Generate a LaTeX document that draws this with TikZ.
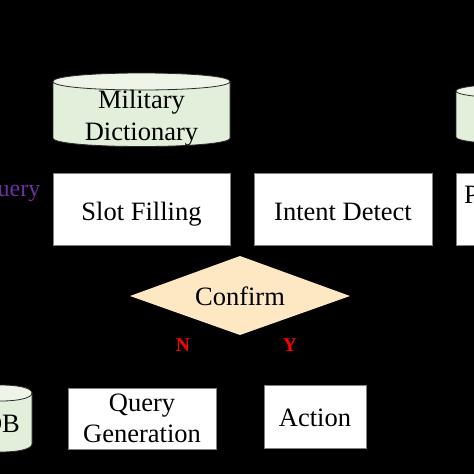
\documentclass[tikz,border=0pt]{standalone}
\usepackage{fontspec}
\setmainfont{Liberation Serif}
\definecolor{cylbody}{HTML}{E2EFDA}
\definecolor{cyltop}{HTML}{EEF5E8}
\definecolor{cylline}{HTML}{2A2A2A}
\definecolor{dfill}{HTML}{FDE8C3}
\definecolor{qpurple}{HTML}{7030A0}
\definecolor{boxline}{HTML}{808080}
\definecolor{nyred}{HTML}{FF0000}
% cx, rx, top centre y, bottom centre y, ry
\newcommand\mycyl[5]{%
  \fill[cylbody] ({#1-#2},#3) -- ({#1-#2},#4) .. controls ({#1-#2},{#4+1.333*#5}) and ({#1+#2},{#4+1.333*#5}) .. ({#1+#2},#4) -- ({#1+#2},#3) -- cycle;
  \fill[cyltop] ({#1-#2},#3) .. controls ({#1-#2},{#3-1.333*#5}) and ({#1+#2},{#3-1.333*#5}) .. ({#1+#2},#3) .. controls ({#1+#2},{#3+1.333*#5}) and ({#1-#2},{#3+1.333*#5}) .. ({#1-#2},#3) -- cycle;
  \draw[cylline,line width=0.8pt] ({#1-#2},#3) -- ({#1-#2},#4) .. controls ({#1-#2},{#4+1.333*#5}) and ({#1+#2},{#4+1.333*#5}) .. ({#1+#2},#4) -- ({#1+#2},#3);
  \draw[cylline,line width=0.8pt] ({#1-#2},#3) .. controls ({#1-#2},{#3-1.333*#5}) and ({#1+#2},{#3-1.333*#5}) .. ({#1+#2},#3) .. controls ({#1+#2},{#3+1.333*#5}) and ({#1-#2},{#3+1.333*#5}) .. ({#1-#2},#3) -- cycle;
}
\tikzset{
  txt/.style={font=\fontsize{26.5}{32}\selectfont, text=black, inner sep=0pt, align=center},
  procbox/.style={draw=boxline, line width=0.8pt, fill=white, font=\fontsize{26.5}{31}\selectfont, text=black, inner sep=0pt, align=center},
  nylab/.style={font=\fontsize{19.5}{22}\selectfont\bfseries, text=nyred, inner sep=0pt, anchor=base}
}
\begin{document}
\begin{tikzpicture}[x=1pt,y=-1pt]
\useasboundingbox (0,0) rectangle (474,474);
\clip (0,0) rectangle (474,474);
\fill[black] (-10,-10) rectangle (484,484);

% cylinders
\mycyl{141.5}{88.5}{81.5}{138}{8.5}
\node[txt] (dict) at (141.5,117.8) {Military\\Dictionary};
\mycyl{544.5}{88.5}{91}{137}{8}
\mycyl{1.5}{30.5}{393}{444}{8}
\node[txt, anchor=base] (db) at (1.5,432) {DB};

% query input
\node[font=\fontsize{24}{28}\selectfont, text=qpurple, inner sep=0pt, anchor=base east] (query) at (40.5,196) {Query};

% process boxes
\node[procbox, minimum width=177pt, minimum height=72pt, text height=22pt, text depth=0pt] (slot) at (141.5,209) {Slot Filling};
\node[procbox, minimum width=178pt, minimum height=72pt, text height=22pt, text depth=0pt] (intent) at (343,209) {Intent Detect};
\node[procbox, minimum width=177pt, minimum height=72pt] (param) at (544.5,209) {};
\node[txt, anchor=base west] (paramtxt) at (464,203) {P};
\node[procbox, minimum width=148pt, minimum height=61pt] (qgen) at (142,418.5) {Query\\Generation};
\node[procbox, minimum width=102pt, minimum height=63pt, text height=20pt, text depth=0pt] (action) at (315,416.5) {Action};

% decision
\fill[dfill] (130,296) -- (240,256) -- (350,296) -- (240,335) -- cycle;
\node[txt, anchor=base] (confirm) at (240,305.7) {Confirm};
\node[nylab] (no) at (183,351.7) {N};
\node[nylab] (yes) at (290,351.7) {Y};
\end{tikzpicture}
\end{document}
